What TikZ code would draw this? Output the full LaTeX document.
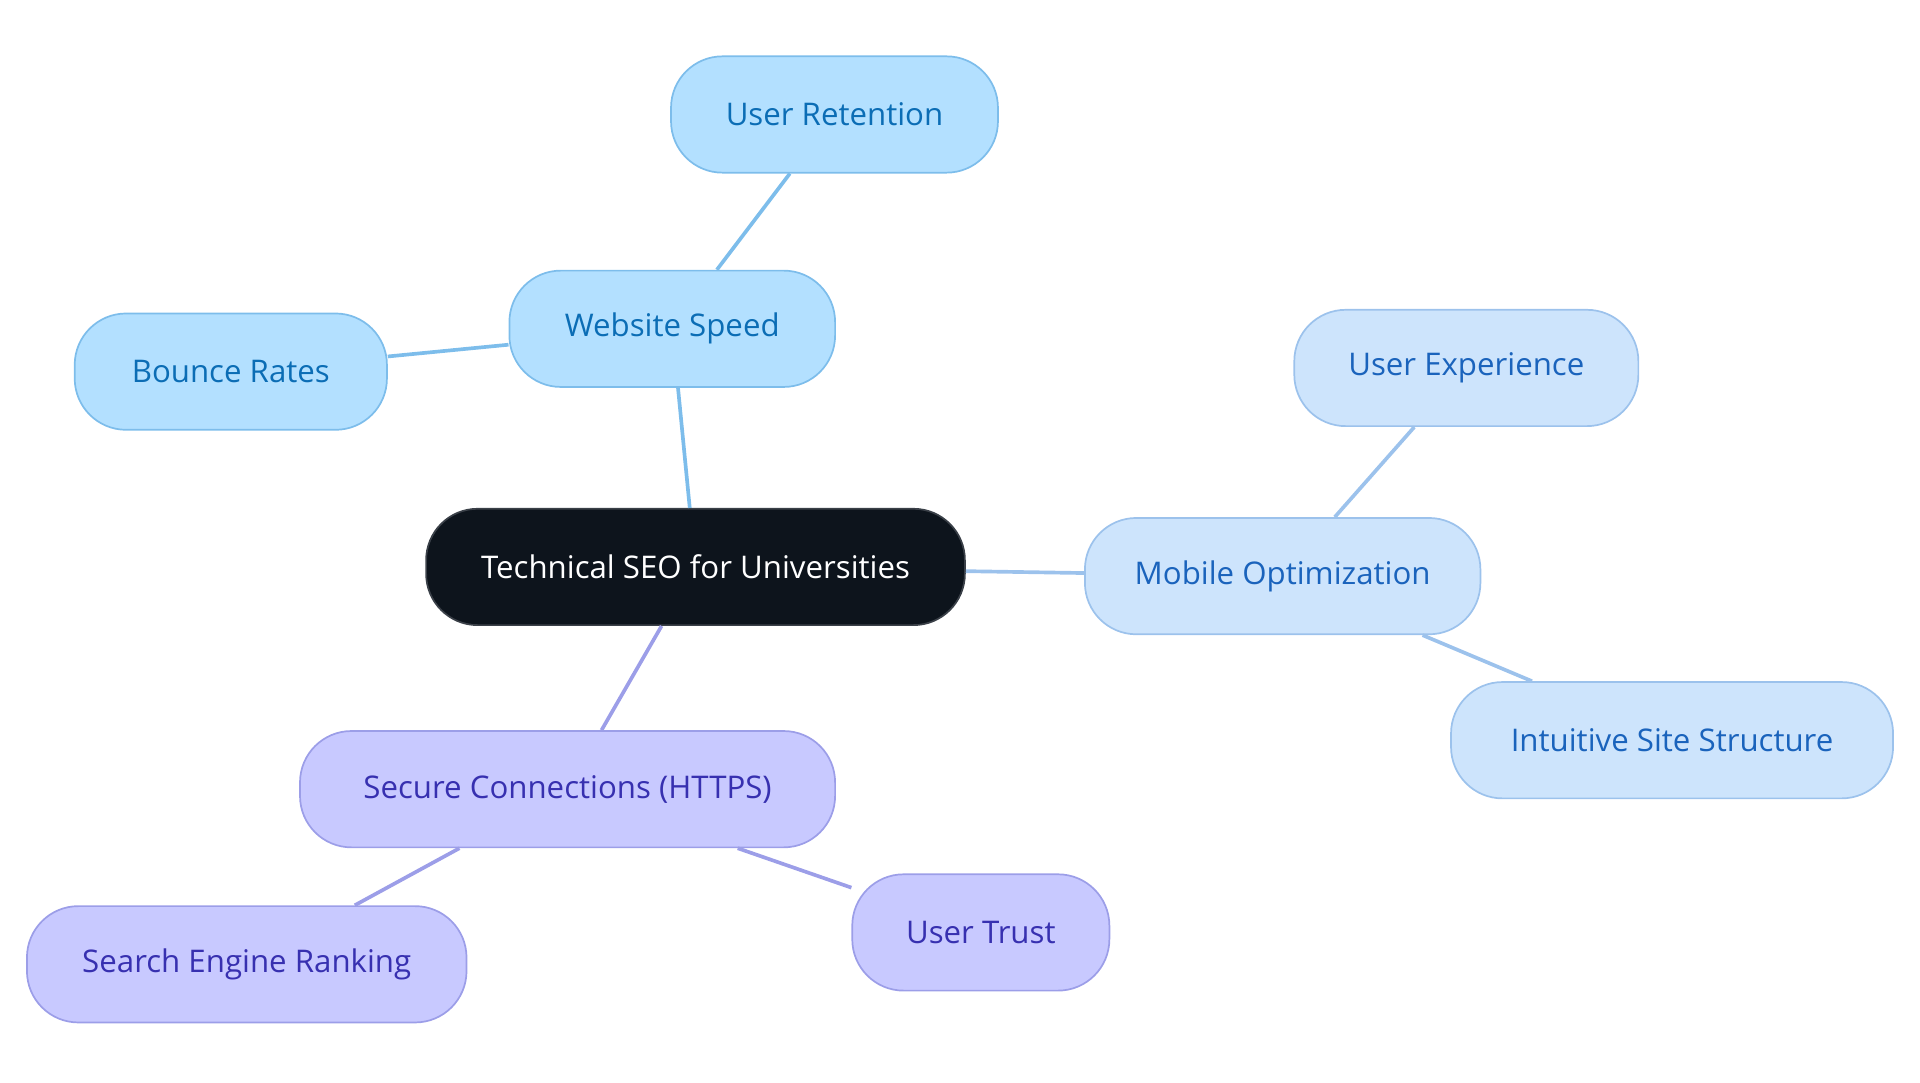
\documentclass[tikz,border=0pt]{standalone}
\usepackage{fontspec}
\setmainfont{Open Sans}
\usepackage{tikz}

\definecolor{rootfill}{HTML}{0D141C}
\definecolor{rootline}{HTML}{3A4048}
\definecolor{speedfill}{HTML}{B3E0FF}
\definecolor{speedline}{HTML}{7DBDEB}
\definecolor{speedtext}{HTML}{0B6DB5}
\definecolor{mobilefill}{HTML}{CDE4FC}
\definecolor{mobileline}{HTML}{9CC2EC}
\definecolor{mobiletext}{HTML}{1A63BC}
\definecolor{securefill}{HTML}{C8C9FF}
\definecolor{secureline}{HTML}{9C9EE8}
\definecolor{securetext}{HTML}{3730B0}

\tikzset{
  topic/.style={rectangle, rounded corners=42pt, line width=1.4pt, inner sep=0pt,
    minimum height=95pt, align=center, font=\fontsize{25.5}{30}\selectfont},
  rootnode/.style={topic, fill=rootfill, draw=rootline, text=white},
  speednode/.style={topic, fill=speedfill, draw=speedline, text=speedtext},
  mobilenode/.style={topic, fill=mobilefill, draw=mobileline, text=mobiletext},
  securenode/.style={topic, fill=securefill, draw=secureline, text=securetext},
  speedlink/.style={draw=speedline, line width=3pt},
  mobilelink/.style={draw=mobileline, line width=3pt},
  securelink/.style={draw=secureline, line width=3pt}
}

\begin{document}
\begin{tikzpicture}[x=1pt, y=-1pt]
  \useasboundingbox (0,0) rectangle (1568,884);

  \node[rootnode, minimum width=440pt] (root) at (568,463) {Technical SEO for Universities};

  \node[speednode, minimum width=266pt] (speed) at (549,268.5) {Website Speed};
  \node[speednode, minimum width=267pt] (retention) at (681.5,93.5) {User Retention};
  \node[speednode, minimum width=255pt] (bounce) at (188.5,303.5) {Bounce Rates};

  \node[mobilenode, minimum width=323pt] (mobile) at (1047.5,470.5) {Mobile Optimization};
  \node[mobilenode, minimum width=281pt] (experience) at (1197.5,300.5) {User Experience};
  \node[mobilenode, minimum width=361pt] (structure) at (1365.5,604.5) {Intuitive Site Structure};

  \node[securenode, minimum width=437pt] (secure) at (463.5,644.5) {Secure Connections (HTTPS)};
  \node[securenode, minimum width=210pt] (trust) at (801,761.5) {User Trust};
  \node[securenode, minimum width=359pt] (ranking) at (201.5,787.5) {Search Engine Ranking};

  % links from each topic to its subtopics
  \draw[speedlink] (root) -- (speed);
  \draw[speedlink] (speed) -- (retention);
  \draw[speedlink] (speed) -- (bounce);
  \draw[mobilelink] (root) -- (mobile);
  \draw[mobilelink] (mobile) -- (experience);
  \draw[mobilelink] (mobile) -- (structure);
  \draw[securelink] (root) -- (secure);
  \draw[securelink] (secure) -- (trust);
  \draw[securelink] (secure) -- (ranking);
\end{tikzpicture}
\end{document}
